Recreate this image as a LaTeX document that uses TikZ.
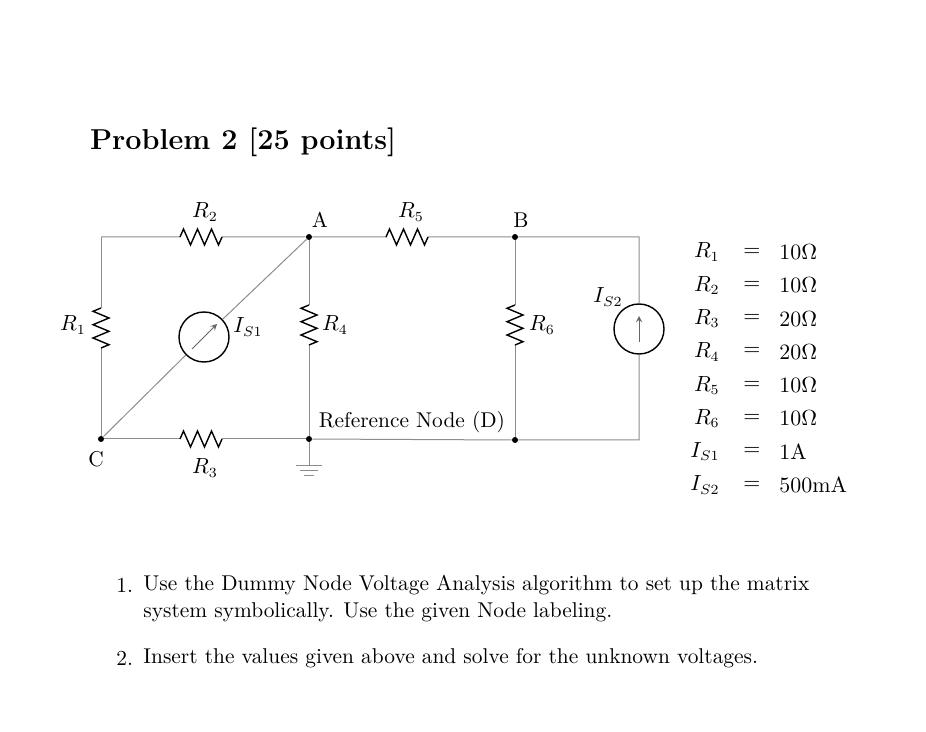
\documentclass[tikz,border=0pt]{standalone}
\usetikzlibrary{positioning}
\tikzset{
  wire/.style={draw=black!45, line width=0.5pt},
  zig/.style={draw=black, line width=0.7pt, line join=miter},
  dot/.style={circle, fill=black, inner sep=0pt, minimum size=3pt},
  src/.style={circle, draw=black, line width=0.7pt, fill=white, minimum size=25pt, inner sep=0pt},
  lbl/.style={inner sep=1pt},
  pics/resh/.style={code={\draw[zig] (-21,0) -- (-17.5,-8) -- (-10.5,8) -- (-3.5,-8) -- (3.5,8) -- (10.5,-8) -- (17.5,8) -- (21,0);}},
  pics/resv/.style={code={\draw[zig] (0,-20) -- (-8,-16.7) -- (8,-10) -- (-8,-3.3) -- (8,3.3) -- (-8,10) -- (8,16.7) -- (0,20);}}
}
\begin{document}
\begin{tikzpicture}[x=0.5pt, y=-0.5pt, >=stealth, every node/.style={font=\fontsize{10.7}{13}\selectfont}]
    \useasboundingbox (0,0) rectangle (926,732);
    % Title
    \node [anchor=west, font=\Large\bfseries] (title) at (83,142) {Problem 2 [25 points]};

    % Nodes
    \node [dot] (A) at (309,237) {};
    \node [dot] (B) at (515,237) {};
    \node [dot] (C) at (101,439) {};
    \node [dot] (D) at (309,439) {};
    \node [dot] (E) at (515,440) {};
    \coordinate (TL) at (101,237);
    \coordinate (TR) at (639,237);
    \coordinate (BR) at (639,440);
    \coordinate (G) at (309,465);

    \node [lbl] at (320,220) {A};
    \node [lbl] at (521,220) {B};
    \node [lbl] at (96,459) {C};

    % Sources
    \node [src] (is1) at (204,337) {};
    \node [src] (is2) at (639,329) {};

    % Wires
    \draw [wire] (C) -- (is1) -- (A);
    \draw [wire] (TL) -- (180,237) (222,237) -- (A) -- (387,237) (428,237) -- (B) -- (TR) -- (is2) -- (BR) -- (E) -- (D);
    \draw [wire] (C) -- (180,439) (222,439) -- (D) -- (G);
    \draw [wire] (C) -- (101,348) (101,308) -- (TL);
    \draw [wire] (A) -- (309,305) (309,345) -- (D);
    \draw [wire] (B) -- (515,305) (515,345) -- (E);

    % Ground
    \draw [wire] (296,465) -- (322,465) (300,470) -- (318,470) (304,475) -- (314,475);

    % Resistors
    \pic at (201,237) {resh};
    \pic at (201,439) {resh};
    \pic at (407,237) {resh};
    \pic at (101,328) {resv};
    \pic at (309,325) {resv};
    \pic at (515,325) {resv};

    % Source arrows
    \draw [->, draw=black!60] (is1.center) ++(-12,12) -- ++(25,-25);
    \draw [->, draw=black!60] (is2.center) ++(0,13) -- ++(0,-26);

    % Labels
    \node [lbl] at (205,212) {$R_2$};
    \node [lbl] at (205,468) {$R_3$};
    \node [lbl] at (411,212) {$R_5$};
    \node [lbl] at (73,325) {$R_1$};
    \node [lbl] at (335,325) {$R_4$};
    \node [lbl] at (542,325) {$R_6$};
    \node [lbl] at (248,327) {$I_{S1}$};
    \node [lbl] at (608,297) {$I_{S2}$};
    \node [lbl] at (412,422) {Reference Node (D)};

    % Values
    \foreach \n/\v [count=\i] in {R_1/10\Omega, R_2/10\Omega, R_3/20\Omega, R_4/20\Omega, R_5/10\Omega, R_6/10\Omega, I_{S1}/1\mathrm{A}, I_{S2}/500\mathrm{mA}}
    {
        \node [lbl, anchor=east] (name-\i) at (722,252+33.3*\i-33.3) {$\n$};
        \node [lbl] at (752,252+33.3*\i-33.3) {$=$};
        \node [lbl, anchor=west] (val-\i) at (777,252+33.3*\i-33.3) {$\v$};
    }

    % Tasks
    \node [lbl, anchor=west] at (114,585) {1.};
    \node [lbl, anchor=west] at (141,585) {Use the Dummy Node Voltage Analysis algorithm to set up the matrix};
    \node [lbl, anchor=west] at (141,612) {system symbolically. Use the given Node labeling.};
    \node [lbl, anchor=west] at (114,658) {2.};
    \node [lbl, anchor=west] at (141,658) {Insert the values given above and solve for the unknown voltages.};
\end{tikzpicture}
\end{document}
